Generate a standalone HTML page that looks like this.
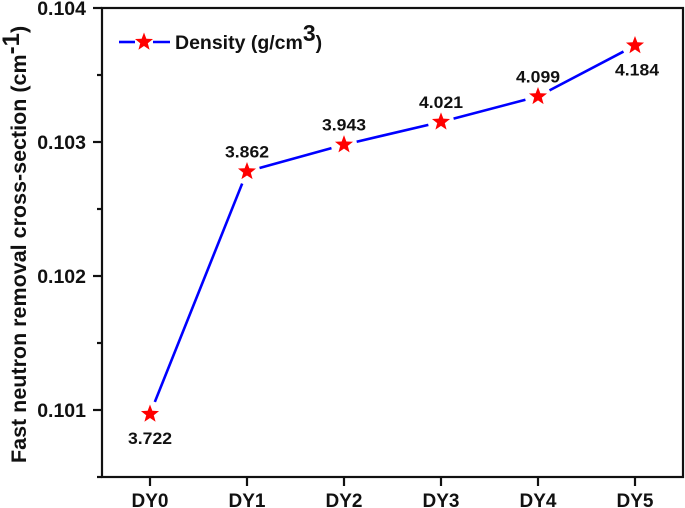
<!DOCTYPE html>
<html>
<head>
<meta charset="utf-8">
<style>
html,body{margin:0;padding:0;background:#fff;width:685px;height:508px;overflow:hidden}
svg{display:block}
text{font-family:"Liberation Sans",sans-serif;font-weight:bold;fill:#111}
</style>
</head>
<body>
<svg id="chart" width="685" height="508" viewBox="0 0 685 508" xmlns="http://www.w3.org/2000/svg">
<rect x="102" y="8" width="581" height="469" fill="none" stroke="#111" stroke-width="2.2"/>
<text transform="translate(26,463) rotate(-90)" font-size="21.5">Fast neutron removal cross-section (cm<tspan font-size="24" dy="-7">-1</tspan><tspan dy="7">)</tspan></text>
<g id="axes"></g>
<g id="series"></g>
<g>
<line x1="119" y1="42" x2="135" y2="42" stroke="#0000ff" stroke-width="2.6"/>
<line x1="153" y1="42" x2="170" y2="42" stroke="#0000ff" stroke-width="2.6"/>
<polygon id="legend-star" fill="#ff0000"/>
<text x="175" y="49" font-size="19.5">Density (g/cm<tspan font-size="23" dy="-8">3</tspan><tspan dy="8">)</tspan></text>
</g>
</svg>
<script>
const categories = ['DY0','DY1','DY2','DY3','DY4','DY5'];
const removalValues = [0.10097,0.10278,0.10298,0.10315,0.10334,0.10372];
const densityLabels = ['3.722','3.862','3.943','4.021','4.099','4.184'];
const labelBelow = [true,false,false,false,false,true];
const yMajorTicks = [0.101,0.102,0.103,0.104];
const yMinorTicks = [0.1005,0.1015,0.1025,0.1035];
const NS = 'http://www.w3.org/2000/svg';
function xScale(i){return 150 + i*97;}
function yScale(v){return 142 + (0.103 - v)*134000;}
function make(tag,attrs,parent){
  const el = document.createElementNS(NS,tag);
  for(const k in attrs){el.setAttribute(k,attrs[k]);}
  parent.appendChild(el);
  return el;
}
function starPoints(cx,cy,R){
  const r = R*0.42, pts = [];
  for(let i=0;i<10;i++){
    const a = -Math.PI/2 + i*Math.PI/5, q = i%2 ? r : R;
    pts.push((cx+q*Math.cos(a)).toFixed(2)+','+(cy+q*Math.sin(a)).toFixed(2));
  }
  return pts.join(' ');
}
const axes = document.getElementById('axes');
const series = document.getElementById('series');
yMajorTicks.forEach(function(v){
  const y = yScale(v);
  const t = make('line',{x1:93,x2:102,y1:y,y2:y,stroke:'#111','stroke-width':2.2},axes);
  
  
  const l = make('text',{x:86,y:y+7,'text-anchor':'end','font-size':19.5},axes);
  
  
  l.textContent = v.toFixed(3);
});
yMinorTicks.forEach(function(v){
  const y = yScale(v);
  const t = make('line',{x1:97,x2:102,y1:y,y2:y,stroke:'#111','stroke-width':2.2},axes);
  
  
});
categories.forEach(function(c,i){
  const x = xScale(i);
  const t = make('line',{x1:x,x2:x,y1:477,y2:486,stroke:'#111','stroke-width':2.2},axes);
  
  
  const l = make('text',{x:x,y:507,'text-anchor':'middle','font-size':19},axes);
  
  
  l.textContent = c;
});
const GAP = 13;
for(let i=0;i<removalValues.length-1;i++){
  const x1 = xScale(i), y1 = yScale(removalValues[i]);
  const x2 = xScale(i+1), y2 = yScale(removalValues[i+1]);
  const d = Math.hypot(x2-x1,y2-y1), ux = (x2-x1)/d, uy = (y2-y1)/d;
  const seg = make('line',{x1:x1+ux*GAP,y1:y1+uy*GAP,x2:x2-ux*GAP,y2:y2-uy*GAP,stroke:'#0000ff','stroke-width':2.6},series);
  
  
}
removalValues.forEach(function(v,i){
  const x = xScale(i), y = yScale(v);
  const s = make('polygon',{points:starPoints(x,y,9.5),fill:'#ff0000'},series);
  
  
  const ly = labelBelow[i] ? y+30 : y-14;
  const l = make('text',{x:x+(i===5?2:0),y:ly,'text-anchor':'middle','font-size':17,textLength:44,lengthAdjust:'spacingAndGlyphs'},series);
  
  
  l.textContent = densityLabels[i];
});
document.getElementById('legend-star').setAttribute('points',starPoints(144,42,9.5));
</script>
</body>
</html>
